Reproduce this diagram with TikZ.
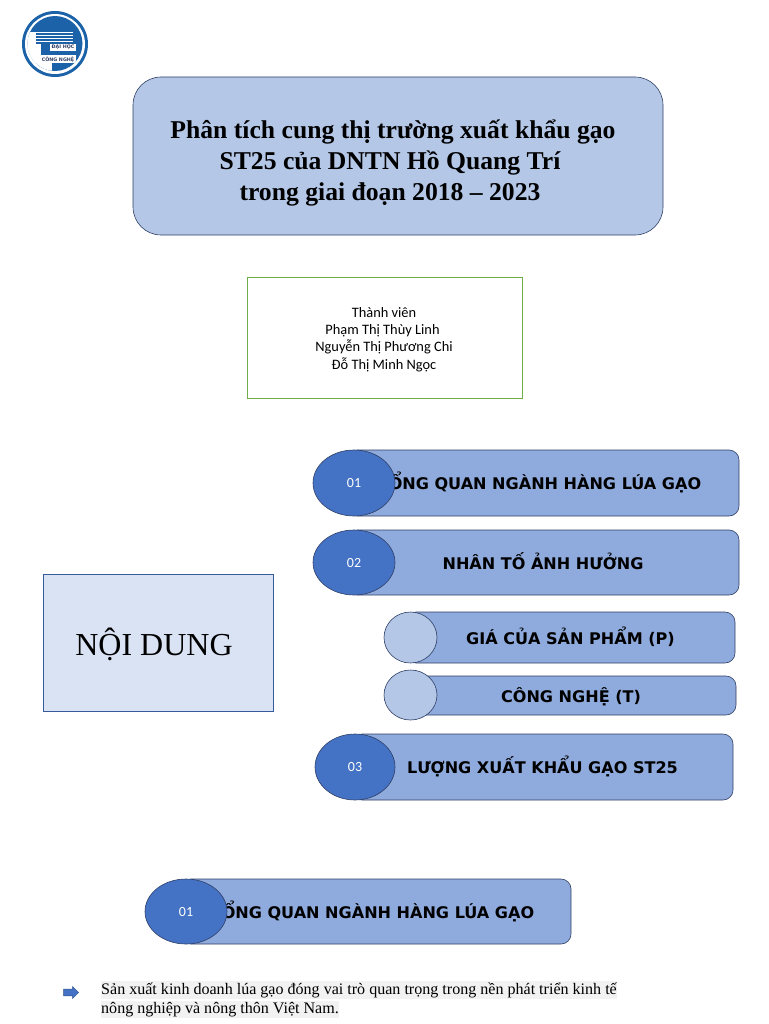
\documentclass[tikz,border=0pt]{standalone}
\usepackage{fontspec}
\setmainfont{Liberation Serif}
\newfontfamily\dejavu{DejaVu Sans}
\newfontfamily\carlito{Carlito}
\usetikzlibrary{shapes.geometric,shapes.arrows}
\definecolor{pale}{HTML}{B4C7E7}
\definecolor{mid}{HTML}{8FAADC}
\definecolor{deep}{HTML}{4472C4}
\definecolor{navy}{HTML}{2F3F66}
\definecolor{leaf}{HTML}{70AD47}
\definecolor{logoblue}{HTML}{1B62A8}
\tikzset{
  bar/.style={draw=navy,fill=mid,rounded corners=10pt,inner sep=0pt,line width=0.6pt,text height=13pt,text depth=0pt,font=\dejavu\bfseries\fontsize{16.05}{20}\selectfont},
  num/.style={ellipse,draw=navy,fill=deep,inner sep=0pt,line width=0.6pt,text=white,font=\carlito\fontsize{14}{16}\selectfont},
  sub/.style={ellipse,draw=navy,fill=pale,inner sep=0pt,line width=0.6pt},
  para/.style={anchor=west,fill=black!5,inner xsep=0pt,inner ysep=1pt,font=\fontsize{16.06}{18}\selectfont},
  logotext/.style={text=navy,inner sep=0pt,font=\dejavu\bfseries\fontsize{4.8}{6}\selectfont}
}
\begin{document}
\begin{tikzpicture}[x=1pt,y=-1pt]
        \useasboundingbox (0,0) rectangle (768,1024);
        % logo
        \fill[logoblue] (55,44) circle (33);
        \fill[white] (55,44) circle (30);
        \begin{scope}
          \clip (55,43.5) circle (27.5);
          \fill[logoblue] (25,14) rectangle (85,75);
          \fill[white] (25,32) rectangle (36,75);
          \fill[white] (36,32) rectangle (73,33.5);
          \fill[white] (36,35) rectangle (73,36.5);
          \fill[white] (36,38) rectangle (73,39.5);
          \fill[white] (36,41) rectangle (73,42.5);
          \fill[white] (25,44) rectangle (41,75);
          \fill[white] (50,44) rectangle (76,51);
          \fill[white] (41,55) rectangle (76,63);
          \fill[white] (41,63) rectangle (52,75);
        \end{scope}
        \node[logotext] (logotop) at (63,47.5) {ĐẠI HỌC};
        \node[logotext] (logobottom) at (58,59.5) {CÔNG NGHỆ};
        % title and members
        \node[draw=navy,fill=pale,rounded corners=28pt,minimum width=530pt,minimum height=158pt,line width=0.6pt] (title) at (398,156) {};
        \node[align=center,font=\bfseries\fontsize{25.65}{31}\selectfont] (titletext) at (393,163) {Phân tích cung thị trường xuất khẩu gạo\\ST25 của DNTN Hồ Quang Trí\hspace*{6pt}\null\\trong giai đoạn 2018 – 2023\hspace*{6pt}};
        \node[draw=leaf,minimum width=275pt,minimum height=121pt,line width=0.7pt] (members) at (384.5,337.5) {};
        \node[align=center,font=\carlito\fontsize{14.4}{17.4}\selectfont] (membertext) at (384,339.5) {Thành viên\\Phạm Thị Thùy Linh\hspace*{3pt}\null\\Nguyễn Thị Phương Chi\\Đỗ Thị Minh Ngọc};
        \node[draw=deep!80!black,fill=deep!20!white,minimum width=230pt,minimum height=137pt,line width=0.6pt] (content) at (158,642.5) {};
        \node[font=\fontsize{32}{38}\selectfont] (contenttext) at (154,644.5) {NỘI DUNG};
        % bars
        \node[bar,minimum width=392pt,minimum height=66pt] (bar1) at (543,483) {};
        \node[bar,draw=none,fill=none] (bar1text) at (539.5,483) {TỔNG QUAN NGÀNH HÀNG LÚA GẠO};
        \node[num,minimum width=82pt,minimum height=66pt] (num1) at (354,483) {01};
        \node[bar,minimum width=392pt,minimum height=65pt] (bar2) at (543,562.5) {NHÂN TỐ ẢNH HƯỞNG};
        \node[num,minimum width=82pt,minimum height=65pt] (num2) at (354,562.5) {02};
        \node[bar,minimum width=329pt,minimum height=51pt] (bar3) at (570.5,637.5) {GIÁ CỦA SẢN PHẨM (P)};
        \node[sub,minimum width=53pt,minimum height=51pt] (sub3) at (410.5,637.5) {};
        \node[bar,minimum width=330pt,minimum height=39pt] (bar4) at (571,695.5) {CÔNG NGHỆ (T)};
        \node[sub,minimum width=53pt,minimum height=50pt] (sub4) at (410.5,695) {};
        \node[bar,minimum width=381pt,minimum height=66pt] (bar5) at (542.5,767) {LƯỢNG XUẤT KHẨU GẠO ST25};
        \node[num,minimum width=80pt,minimum height=66pt] (num5) at (355,767) {03};
        \node[bar,minimum width=390pt,minimum height=65pt] (bar6) at (376,911.5) {};
        \node[bar,draw=none,fill=none] (bar6text) at (372.5,911.5) {TỔNG QUAN NGÀNH HÀNG LÚA GẠO};
        \node[num,minimum width=82pt,minimum height=65pt] (num6) at (186,911.5) {01};
        % last paragraph
        \node[single arrow,draw=deep!70!black,fill=deep,inner xsep=0pt,inner ysep=3pt,minimum width=12pt,minimum height=15pt,single arrow head extend=2.5pt,line width=0.4pt] (mark) at (69.5,992.5) {};
        \node[para] (line1) at (101,990) {Sản xuất kinh doanh lúa gạo đóng vai trò quan trọng trong nền phát triển kinh tế};
        \node[para] (line2) at (101,1009.5) {nông nghiệp và nông thôn Việt Nam.};
      \end{tikzpicture}
\end{document}
